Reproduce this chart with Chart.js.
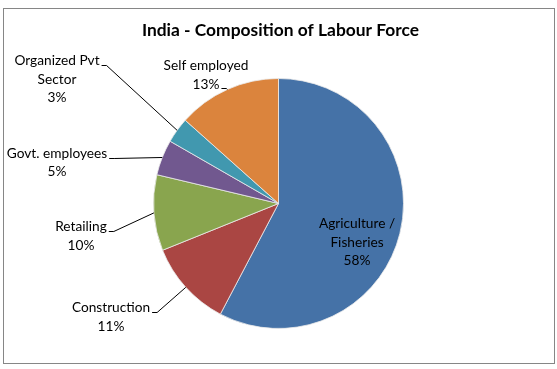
<!DOCTYPE html>
<html>
<head>
<meta charset="utf-8">
<script src="https://cdn.jsdelivr.net/npm/chart.js@4/dist/chart.umd.min.js"></script>
<style>
    html, body { margin: 0; padding: 0; background: #fff; }
    #wrap { position: relative; width: 557px; height: 369px; }
</style>
</head>
<body>
<div id="wrap"><canvas id="pie" width="557" height="369"></canvas></div>
<script>
// --- DATA ---
const chartTitle = 'India - Composition of Labour Force';
const categories = ['Agriculture / Fisheries', 'Construction', 'Retailing', 'Govt. employees', 'Organized Pvt Sector', 'Self employed'];
const shares = [57.7, 11.2, 9.8, 4.6, 3.3, 13.4];
// how each category name wraps in its data label
const labelLines = [['Agriculture /', 'Fisheries'], ['Construction'], ['Retailing'], ['Govt. employees'], ['Organized Pvt', 'Sector'], ['Self employed']];

// --- STYLE / LAYOUT ---
const sliceColors = ['#4572A7', '#AA4643', '#89A54E', '#71588F', '#4198AF', '#DB843D'];
const FONT = '"Lato", "Liberation Sans", sans-serif';
const LINE_H = 18.3;
// label block: centre x, centre y of first line, line that carries the leader tick (-1 = none)
const labelLayout = [
    { x: 357, y: 224, tick: -1 },
    { x: 111, y: 308, tick: 0 },
    { x: 81, y: 227, tick: 0 },
    { x: 57, y: 153.5, tick: 0 },
    { x: 57, y: 61, tick: 0 },
    { x: 206, y: 66, tick: 1 }
];

const total = shares.reduce((a, b) => a + b, 0);

const labelPlugin = {
    id: 'excelLabels',
    beforeDraw(chart) {
        const c = chart.ctx;
        c.save();
        c.fillStyle = '#fff';
        c.fillRect(0, 0, chart.width, chart.height);
        c.strokeStyle = '#868686';
        c.lineWidth = 1;
        c.strokeRect(3.5, 8.5, 551, 355);
        c.fillStyle = '#000';
        c.font = 'bold 17.4px ' + FONT;
        c.textAlign = 'center';
        c.textBaseline = 'middle';
        c.fillText(chartTitle, 280.5, 30.5);
        c.restore();
    },
    afterDatasetsDraw(chart) {
        const c = chart.ctx;
        const arcs = chart.getDatasetMeta(0).data;
        c.save();
        c.font = '13.7px ' + FONT;
        c.textAlign = 'center';
        c.textBaseline = 'middle';
        c.fillStyle = '#000';
        c.strokeStyle = '#000';
        c.lineWidth = 1;
        arcs.forEach((arc, i) => {
            const lay = labelLayout[i];
            const lines = labelLines[i].concat([Math.round(shares[i] / total * 100) + '%']);
            lines.forEach((t, k) => c.fillText(t, lay.x, lay.y + k * LINE_H));
            if (lay.tick < 0) return;
            const tw = c.measureText(lines[lay.tick]).width;
            const ty = Math.round(lay.y + lay.tick * LINE_H + 4) + 0.5;
            const x0 = lay.x + tw / 2 + 2;
            const mid = (arc.startAngle + arc.endAngle) / 2;
            const px = arc.x + Math.cos(mid) * arc.outerRadius;
            const py = arc.y + Math.sin(mid) * arc.outerRadius;
            c.beginPath();
            c.moveTo(x0, ty);
            c.lineTo(x0 + 5, ty);
            c.lineTo(px, py);
            c.stroke();
        });
        c.restore();
    }
};

new Chart(document.getElementById('pie'), {
    type: 'pie',
    data: {
        labels: categories,
        datasets: [{
            data: shares,
            backgroundColor: sliceColors,
            borderColor: 'rgba(235,235,235,0.8)',
            borderWidth: 1
        }]
    },
    options: {
        responsive: false,
        animation: false,
        layout: { padding: { left: 153, right: 153, top: 78, bottom: 40 } },
        plugins: {
            legend: { display: false },
            title: { display: false },
            tooltip: { enabled: false }
        }
    },
    plugins: [labelPlugin]
});
</script>
</body>
</html>
